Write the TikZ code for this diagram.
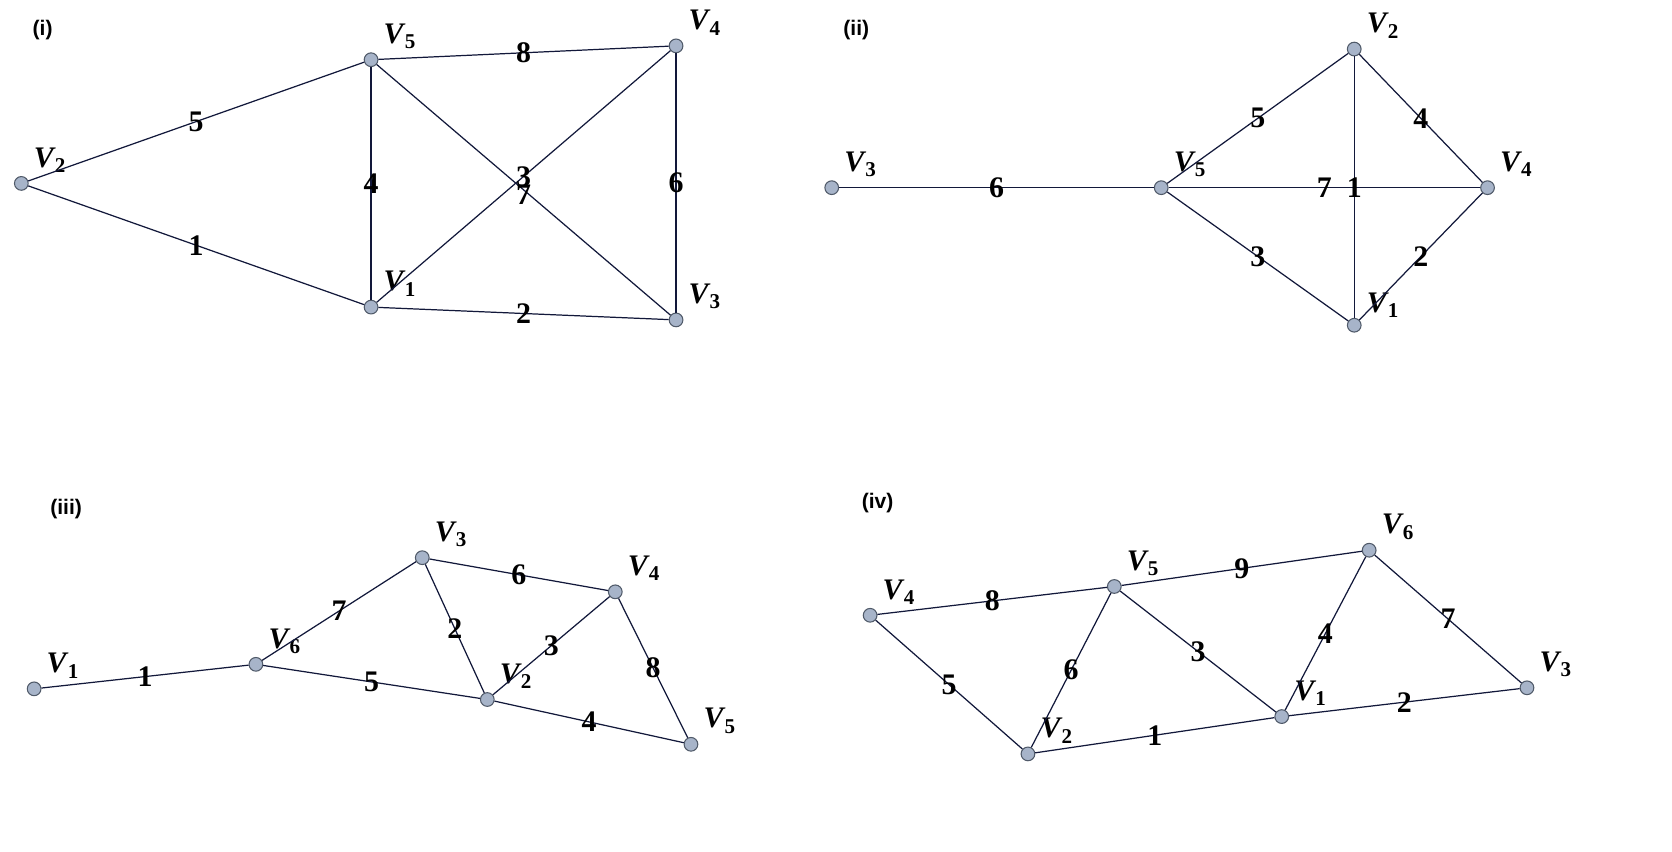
\documentclass[tikz,border=0pt]{standalone}
\usepackage{fontspec}
\setmainfont{Liberation Serif}
\newfontfamily\tagfont{Liberation Sans}
\usetikzlibrary{positioning}
\definecolor{nodefill}{RGB}{167,180,201}
\definecolor{nodeline}{RGB}{80,90,105}
\definecolor{edgecol}{RGB}{18,24,58}
\newcommand{\vn}[1]{\textbf{\textit{V}}\kern-0.5pt\raisebox{-3pt}{\fontsize{12}{12}\selectfont\bfseries #1}}

\begin{document}
\begin{tikzpicture}[x=0.021326cm,y=-0.021326cm,
  font=\fontsize{17}{17}\selectfont,
  vtx/.style={circle,draw=nodeline,fill=nodefill,line width=0.6pt,
    minimum size=7.8pt,inner sep=0pt},
  vlab/.style={inner sep=0pt},
  wt/.style={font=\fontsize{17}{17}\selectfont\bfseries,inner sep=0pt},
  edge/.style={draw=edgecol,line width=0.7pt},
  tag/.style={font=\tagfont\bfseries\fontsize{12}{12}\selectfont}]
  \useasboundingbox (0,0) rectangle (1568,799);

  % (i)
  \node[tag] (ti) at (40,28) {(i)};
  \node[vtx] (a2) at (20,172) {};
  \node[vtx] (a5) at (348,56) {};
  \node[vtx] (a4) at (634,43) {};
  \node[vtx] (a1) at (348,288) {};
  \node[vtx] (a3) at (634,300) {};
  \node[vlab,above right=3pt and 4pt of a2] (a2l) {\vn{2}};
  \node[vlab,above right=3pt and 4pt of a5] (a5l) {\vn{5}};
  \node[vlab,above right=3pt and 4pt of a4] (a4l) {\vn{4}};
  \node[vlab,above right=3pt and 4pt of a1] (a1l) {\vn{1}};
  \node[vlab,above right=3pt and 4pt of a3] (a3l) {\vn{3}};
  \draw[edge] (a2) -- (a5) node[wt,midway] {5};
  \draw[edge] (a2) -- (a1) node[wt,midway] {1};
  \draw[edge] (a5) -- (a4) node[wt,midway] {8};
  \draw[edge] (a5) -- (a1) node[wt,midway] {4};
  \draw[edge] (a4) -- (a3) node[wt,midway] {6};
  \draw[edge] (a1) -- (a3) node[wt,midway] {2};
  \draw[edge] (a1) -- (a4) node[wt,midway] {3};
  \draw[edge] (a5) -- (a3) node[wt,midway,yshift=-3pt] {7};

  % (ii)
  \node[tag] (tii) at (803,28) {(ii)};
  \node[vtx] (b3) at (780,176) {};
  \node[vtx] (b5) at (1089,176) {};
  \node[vtx] (b2) at (1270,46) {};
  \node[vtx] (b4) at (1395,176) {};
  \node[vtx] (b1) at (1270,305) {};
  \node[vlab,above right=3pt and 4pt of b3] (b3l) {\vn{3}};
  \node[vlab,above right=3pt and 4pt of b5] (b5l) {\vn{5}};
  \node[vlab,above right=3pt and 4pt of b2] (b2l) {\vn{2}};
  \node[vlab,above right=3pt and 4pt of b4] (b4l) {\vn{4}};
  \node[vlab,above right=1pt and 4pt of b1] (b1l) {\vn{1}};
  \draw[edge] (b3) -- (b5) node[wt,midway] {6};
  \draw[edge] (b5) -- (b2) node[wt,midway] {5};
  \draw[edge] (b2) -- (b4) node[wt,midway] {4};
  \draw[edge] (b5) -- (b4) node[wt,midway] {7};
  \draw[edge] (b2) -- (b1) node[wt,midway] {1};
  \draw[edge] (b5) -- (b1) node[wt,midway] {3};
  \draw[edge] (b4) -- (b1) node[wt,midway] {2};

  % (iii)
  \node[tag] (tiii) at (62,477) {(iii)};
  \node[vtx] (c1) at (32,646) {};
  \node[vtx] (c6) at (240,623) {};
  \node[vtx] (c3) at (396,523) {};
  \node[vtx] (c4) at (577,555) {};
  \node[vtx] (c2) at (457,656) {};
  \node[vtx] (c5) at (648,698) {};
  \node[vlab,above right=3pt and 4pt of c1] (c1l) {\vn{1}};
  \node[vlab,above right=3pt and 4pt of c6] (c6l) {\vn{6}};
  \node[vlab,above right=3pt and 4pt of c3] (c3l) {\vn{3}};
  \node[vlab,above right=3pt and 4pt of c4] (c4l) {\vn{4}};
  \node[vlab,above right=3pt and 4pt of c2] (c2l) {\vn{2}};
  \node[vlab,above right=3pt and 4pt of c5] (c5l) {\vn{5}};
  \draw[edge] (c1) -- (c6) node[wt,midway] {1};
  \draw[edge] (c6) -- (c3) node[wt,midway] {7};
  \draw[edge] (c6) -- (c2) node[wt,midway] {5};
  \draw[edge] (c3) -- (c4) node[wt,midway] {6};
  \draw[edge] (c3) -- (c2) node[wt,midway] {2};
  \draw[edge] (c2) -- (c4) node[wt,midway] {3};
  \draw[edge] (c4) -- (c5) node[wt,midway] {8};
  \draw[edge] (c2) -- (c5) node[wt,midway] {4};

  % (iv)
  \node[tag] (tiv) at (823,472) {(iv)};
  \node[vtx] (d4) at (816,577) {};
  \node[vtx] (d5) at (1045,550) {};
  \node[vtx] (d6) at (1284,516) {};
  \node[vtx] (d2) at (964,707) {};
  \node[vtx] (d1) at (1202,672) {};
  \node[vtx] (d3) at (1432,645) {};
  \node[vlab,above right=3pt and 4pt of d4] (d4l) {\vn{4}};
  \node[vlab,above right=3pt and 4pt of d5] (d5l) {\vn{5}};
  \node[vlab,above right=3pt and 4pt of d6] (d6l) {\vn{6}};
  \node[vlab,above right=3pt and 4pt of d2] (d2l) {\vn{2}};
  \node[vlab,above right=3pt and 4pt of d1] (d1l) {\vn{1}};
  \node[vlab,above right=3pt and 4pt of d3] (d3l) {\vn{3}};
  \draw[edge] (d4) -- (d5) node[wt,midway] {8};
  \draw[edge] (d5) -- (d6) node[wt,midway] {9};
  \draw[edge] (d4) -- (d2) node[wt,midway] {5};
  \draw[edge] (d5) -- (d2) node[wt,midway] {6};
  \draw[edge] (d5) -- (d1) node[wt,midway] {3};
  \draw[edge] (d6) -- (d1) node[wt,midway] {4};
  \draw[edge] (d6) -- (d3) node[wt,midway] {7};
  \draw[edge] (d2) -- (d1) node[wt,midway] {1};
  \draw[edge] (d1) -- (d3) node[wt,midway] {2};
\end{tikzpicture}
\end{document}
